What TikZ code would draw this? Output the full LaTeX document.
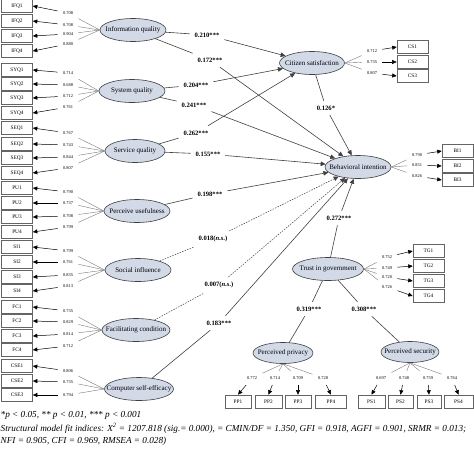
\documentclass[tikz,border=0pt]{standalone}
\usepackage{fontspec}
\setmainfont{Liberation Serif}
\usetikzlibrary{arrows.meta,shapes.geometric}
\definecolor{LatentClr}{RGB}{210,218,232}
\definecolor{LineClr}{RGB}{64,64,64}
\definecolor{BoxClr}{RGB}{100,100,100}

\tikzset{
  latent/.style={ellipse,draw=LineClr,fill=LatentClr,line width=.6pt,
    minimum width=66pt,minimum height=23pt,inner xsep=-15pt,inner ysep=0pt,
    font=\fontsize{7}{8}\selectfont},
  item/.style={draw=BoxClr,line width=.6pt,minimum width=31pt,minimum height=13pt,
    inner sep=0pt,font=\fontsize{5.3}{6}\selectfont},
  load/.style={inner sep=.5pt,outer sep=5pt,font=\fontsize{4.4}{5}\selectfont},
  coef/.style={inner sep=1pt,outer sep=4pt,font=\bfseries\fontsize{6.6}{7}\selectfont},
  fan/.style={draw=LineClr!70,line width=.4pt},
  toitem/.style={draw=black,line width=.5pt,-{Triangle[length=4.5pt,width=4pt]}},
  link/.style={draw=LineClr,line width=.6pt},
  tolatent/.style={link,-{Triangle[length=5pt,width=4.5pt]}},
  nsline/.style={draw=LineClr,line width=.5pt,dash pattern=on 1.5pt off 1.2pt},
  note/.style={anchor=west,inner sep=.5pt,font=\itshape\fontsize{9.2}{10}\selectfont},
}

\begin{document}
\begin{tikzpicture}[x=1pt,y=-1pt]
\useasboundingbox (0,0) rectangle (474,453);

% constructs
\node[latent] (infoq) at (133,30) {Information quality};
\node[latent] (sysq) at (132,91) {System quality};
\node[latent,minimum width=60pt] (servq) at (135,151) {Service quality};
\node[latent] (useful) at (137,211) {Perceive usefulness};
\node[latent] (social) at (138,270) {Social influence};
\node[latent,minimum width=68pt] (facil) at (136,330) {Facilitating condition};
\node[latent,minimum width=69pt] (selfeff) at (139,389) {Computer self-efficacy};
\node[latent,minimum width=65pt] (satis) at (312,63) {Citizen satisfaction};
\node[latent] (intent) at (358,167) {Behavioral intention};
\node[latent,minimum width=71pt] (trust) at (328,269) {Trust in government};
\node[latent,minimum width=60pt,minimum height=21pt] (privacy) at (283,353) {Perceived privacy};
\node[latent,minimum width=58pt,minimum height=21pt] (security) at (410,352) {Perceived security};

% left indicators
\foreach \name/\by/\val/\ly/\lat in {IFQ1/6/0.708/13/infoq,IFQ2/21/0.708/25/infoq,
    IFQ3/36/0.904/34/infoq,IFQ4/51/0.880/44/infoq,
    SYQ1/70/0.714/73/sysq,SYQ2/84/0.688/85/sysq,SYQ3/98/0.712/96/sysq,SYQ4/113/0.761/107/sysq,
    SEQ1/128/0.767/133/servq,SEQ2/144/0.743/145/servq,SEQ3/158/0.844/157/servq,SEQ4/173/0.807/168/servq,
    PU1/188/0.790/192/useful,PU2/203/0.737/203/useful,PU3/217/0.708/216/useful,PU4/232/0.799/227/useful,
    SI1/247/0.799/251/social,SI2/262/0.761/262/social,SI3/277/0.835/275/social,SI4/291/0.813/286/social,
    FC1/307/0.735/311/facil,FC2/321/0.829/322/facil,FC3/336/0.814/334/facil,FC4/350/0.712/346/facil,
    CSE1/366/0.806/371/selfeff,CSE2/381/0.735/382/selfeff,CSE3/395/0.794/395/selfeff}{
  \node[item] (\name) at (17,\by) {\name};
  \node[load] (l\name) at (68,\ly) {\val};
  \draw[fan] (\lat.west) -- (l\name);
  \draw[toitem] (l\name) -- (\name.east);
}

% right indicators
\foreach \name/\bx/\by/\val/\lx/\ly/\lat in {CS1/412.5/47/0.712/372/51/satis,
    CS2/412.5/62/0.735/372/62/satis,CS3/412.5/76/0.807/372/73/satis,
    BI1/457.5/151/0.790/417/155/intent,BI2/457.5/166/0.851/417/165/intent,
    BI3/457.5/180/0.826/417/176/intent,
    TG1/428.5/251/0.752/387/257/trust,TG2/428.5/266/0.749/387/268/trust,
    TG3/428.5/281/0.720/387/277/trust,TG4/428.5/296/0.726/387/287/trust}{
  \node[item] (\name) at (\bx,\by) {\name};
  \node[load] (l\name) at (\lx,\ly) {\val};
  \draw[fan] (\lat.east) -- (l\name);
  \draw[toitem] (l\name) -- (\name.west);
}

% bottom indicators
\foreach \name/\bx/\bw/\val/\lx/\lat in {PP1/238/26/0.772/252/privacy,
    PP2/268.5/27/0.714/275/privacy,PP3/298/26/0.709/298/privacy,
    PP4/331/31/0.728/323/privacy,
    PS1/371.5/27/0.697/381/security,PS2/400.5/25/0.748/404/security,
    PS3/429/24/0.759/428/security,PS4/458.5/29/0.764/452/security}{
  \node[item,minimum width=\bw pt] (\name) at (\bx,401.5) {\name};
  \node[load] (l\name) at (\lx,378) {\val};
  \draw[fan] (\lat.south) -- (l\name);
  \draw[toitem] (l\name) -- (\name.north);
}

% path coefficients
\node[coef] (c210) at (207,35) {0.210***};
\node[coef] (c172) at (210,60) {0.172***};
\node[coef] (c204) at (196,85) {0.204***};
\node[coef] (c241) at (194,105) {0.241***};
\node[coef] (c262) at (196,133) {0.262***};
\node[coef] (c155) at (208,154) {0.155***};
\node[coef] (c198) at (210,194) {0.198***};
\node[coef] (c018) at (213,239) {0.018(\textit{n.s.})};
\node[coef] (c007) at (219,285) {0.007(\textit{n.s.})};
\node[coef] (c183) at (219,323) {0.183***};
\node[coef] (c126) at (326,108) {0.126*};
\node[coef] (c272) at (339,218) {0.272***};
\node[coef] (c319) at (309,309) {0.319***};
\node[coef] (c308) at (364,309) {0.308***};

\draw[link] (infoq) -- (c210); \draw[tolatent] (c210) -- (satis);
\draw[link] (infoq) -- (c172); \draw[tolatent] (c172) -- (intent);
\draw[link] (sysq) -- (c204); \draw[tolatent] (c204) -- (satis);
\draw[link] (sysq) -- (c241); \draw[tolatent] (c241) -- (intent);
\draw[link] (servq) -- (c262); \draw[tolatent] (c262) -- (satis);
\draw[link] (servq) -- (c155); \draw[tolatent] (c155) -- (intent);
\draw[link] (useful) -- (c198); \draw[tolatent] (c198) -- (intent);
\draw[nsline] (social) -- (c018); \draw[nsline,-{Triangle[length=5pt,width=4.5pt]}] (c018) -- (intent);
\draw[nsline] (facil) -- (c007); \draw[nsline,-{Triangle[length=5pt,width=4.5pt]}] (c007) -- (intent);
\draw[link] (selfeff) -- (c183); \draw[tolatent] (c183) -- (intent);
\draw[link] (satis) -- (c126); \draw[tolatent] (c126) -- (intent);
\draw[link] (trust) -- (c272); \draw[tolatent] (c272) -- (intent);
\draw[link] (trust) -- (c319); \draw[link] (c319) -- (privacy);
\draw[link] (trust) -- (c308); \draw[link] (c308) -- (security);

% notes
\node[note] (sig) at (0,415) {*p < 0.05, ** p < 0.01, *** p < 0.001};
\node[note] (fit) at (0,428) {Structural model fit indices: X\textsuperscript{2} = 1207.818 (sig.= 0.000), = CMIN/DF = 1.350, GFI = 0.918, AGFI = 0.901, SRMR = 0.013;};
\node[note] (fitb) at (0,441) {NFI = 0.905, CFI = 0.969, RMSEA = 0.028)};
\end{tikzpicture}
\end{document}
